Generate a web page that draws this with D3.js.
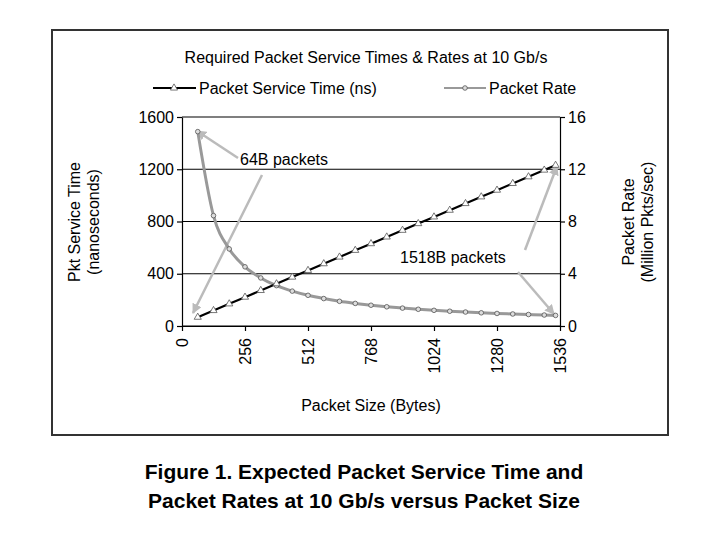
<!DOCTYPE html><html><head><meta charset="utf-8"><script src="https://cdn.jsdelivr.net/npm/d3@7"></script>
<style>body{margin:0;background:#fff;font-family:"Liberation Sans",Arial,sans-serif}</style></head><body><svg width="720" height="540"></svg>
<script>
const sizes=[64,128,192,256,320,384,448,512,576,640,704,768,832,896,960,1024,1088,1152,1216,1280,1344,1408,1472,1518];
const serviceTime=[67.2,118.4,169.6,220.8,272,323.2,374.4,425.6,476.8,528,579.2,630.4,681.6,732.8,784,835.2,886.4,937.6,988.8,1040,1091.2,1142.4,1193.6,1230.4];
const packetRate=[14.88,8.45,5.90,4.53,3.68,3.09,2.67,2.35,2.10,1.89,1.73,1.59,1.47,1.37,1.28,1.20,1.13,1.07,1.01,0.96,0.92,0.88,0.84,0.81];
const xTicks=[0,256,512,768,1024,1280,1536];
const yTicks=[0,400,800,1200,1600];
const y2Ticks=[0,4,8,12,16];
const svg=d3.select("svg");
svg.append("rect").attr("x",52).attr("y",30).attr("width",616).attr("height",405).attr("fill","none").attr("stroke","#333").attr("stroke-width",2);
const x=d3.scaleLinear().domain([0,1536]).range([182,560]);
const y=d3.scaleLinear().domain([0,1600]).range([326,117]);
const y2=d3.scaleLinear().domain([0,16]).range([326,117]);
const F=16;
svg.append("g").selectAll("line").data(yTicks.slice(1)).join("line").attr("x1",x(0)).attr("x2",x(1536)).attr("y1",d=>y(d)).attr("y2",d=>y(d)).attr("stroke","#000").attr("stroke-width",1.2);
const fmt=d3.format("d");
const gx=svg.append("g").attr("transform",`translate(0,${y(0)})`).call(d3.axisBottom(x).tickValues(xTicks).tickFormat(fmt).tickSize(5).tickSizeOuter(0));
gx.selectAll("text").attr("transform","rotate(-90)").attr("x",-12).attr("y",0).attr("text-anchor","end").attr("dy","0.35em");
const gy=svg.append("g").attr("transform",`translate(${x(0)},0)`).call(d3.axisLeft(y).tickValues(yTicks).tickFormat(fmt).tickSize(5).tickSizeOuter(0));
const gy2=svg.append("g").attr("transform",`translate(${x(1536)},0)`).call(d3.axisRight(y2).tickValues(y2Ticks).tickFormat(fmt).tickSize(5).tickSizeOuter(0));
[gx,gy,gy2].forEach(g=>{g.selectAll("text").attr("font-size",F).attr("font-family","Liberation Sans").attr("fill","#000");g.selectAll("line,path").attr("stroke","#000").attr("stroke-width",1.2);});
svg.append("line").attr("x1",x(0)).attr("x2",x(1536)).attr("y1",y(0)).attr("y2",y(0)).attr("stroke","#000").attr("stroke-width",1.2);
// annotations (under series)
const defs=svg.append("defs");
defs.append("marker").attr("id","ah").attr("viewBox","0 0 10 10").attr("refX",9).attr("refY",5).attr("markerWidth",4).attr("markerHeight",4).attr("orient","auto").append("path").attr("d","M0,0L10,5L0,10z").attr("fill","#bbb");
const arrows=[[238,158,197,131],[262,175,193,313],[525,250,557,166],[518,272,554,314]];
svg.append("g").selectAll("line").data(arrows).join("line").attr("x1",d=>d[0]).attr("y1",d=>d[1]).attr("x2",d=>d[2]).attr("y2",d=>d[3]).attr("stroke","#bbb").attr("stroke-width",2.5).attr("marker-end","url(#ah)");
const rl=d3.line().x((d,i)=>x(sizes[i])).y(d=>y2(d)).curve(d3.curveMonotoneX);
svg.append("path").attr("d",rl(packetRate)).attr("fill","none").attr("stroke","#999").attr("stroke-width",3);
svg.append("g").selectAll("circle").data(packetRate).join("circle").attr("cx",(d,i)=>x(sizes[i])).attr("cy",d=>y2(d)).attr("r",2.3).attr("fill","#ddd").attr("stroke","#555").attr("stroke-width",0.8);
const tl=d3.line().x((d,i)=>x(sizes[i])).y(d=>y(d));
svg.append("path").attr("d",tl(serviceTime)).attr("fill","none").attr("stroke","#000").attr("stroke-width",2.2);
const tri=d3.symbol().type(d3.symbolTriangle).size(22);
svg.append("g").selectAll("path").data(serviceTime).join("path").attr("d",tri).attr("transform",(d,i)=>`translate(${x(sizes[i])},${y(d)})`).attr("fill","#fff").attr("stroke","#555").attr("stroke-width",0.8);
svg.append("text").attr("x",240).attr("y",165).attr("font-size",F).text("64B packets");
svg.append("text").attr("x",400).attr("y",263).attr("font-size",F).text("1518B packets");
svg.append("text").attr("transform",`translate(80,222) rotate(-90)`).attr("text-anchor","middle").attr("font-size",F).selectAll("tspan").data(["Pkt Service Time","(nanoseconds)"]).join("tspan").attr("x",0).attr("dy",(d,i)=>i?19:0).text(d=>d);
svg.append("text").attr("transform",`translate(634,222) rotate(-90)`).attr("text-anchor","middle").attr("font-size",F).selectAll("tspan").data(["Packet Rate","(Million Pkts/sec)"]).join("tspan").attr("x",0).attr("dy",(d,i)=>i?19:0).text(d=>d);
svg.append("text").attr("x",371).attr("y",411).attr("text-anchor","middle").attr("font-size",F).text("Packet Size (Bytes)");
svg.append("text").attr("x",366).attr("y",63).attr("text-anchor","middle").attr("font-size",F).text("Required Packet Service Times & Rates at 10 Gb/s");
svg.append("line").attr("x1",153).attr("x2",196).attr("y1",88).attr("y2",88).attr("stroke","#000").attr("stroke-width",2.2);
svg.append("path").attr("d",tri).attr("transform","translate(174,88)").attr("fill","#fff").attr("stroke","#555").attr("stroke-width",0.8);
svg.append("text").attr("x",199).attr("y",94).attr("font-size",F).text("Packet Service Time (ns)");
svg.append("line").attr("x1",444).attr("x2",486).attr("y1",88).attr("y2",88).attr("stroke","#999").attr("stroke-width",2);
svg.append("circle").attr("cx",465).attr("cy",88).attr("r",2.3).attr("fill","#ddd").attr("stroke","#555").attr("stroke-width",0.8);
svg.append("text").attr("x",489).attr("y",94).attr("font-size",F).text("Packet Rate");
svg.append("text").attr("x",364).attr("y",479).attr("text-anchor","middle").attr("font-size",21).attr("font-weight","bold").text("Figure 1. Expected Packet Service Time and");
svg.append("text").attr("x",364).attr("y",508).attr("text-anchor","middle").attr("font-size",21).attr("font-weight","bold").text("Packet Rates at 10 Gb/s versus Packet Size");
</script></body></html>
